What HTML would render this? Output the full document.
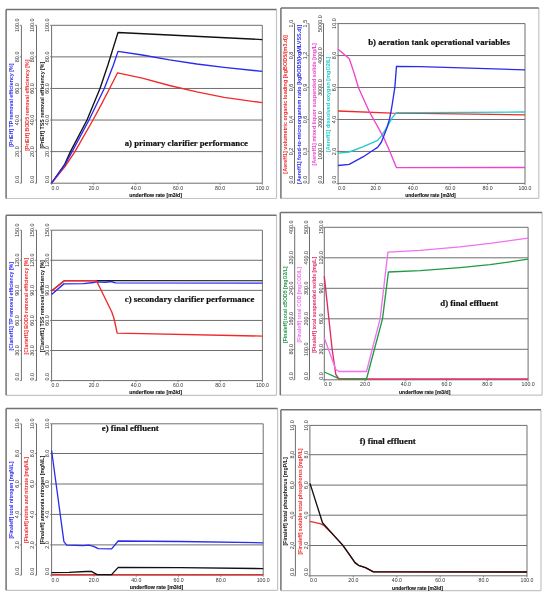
<!DOCTYPE html>
<html><head><meta charset="utf-8"><title>Clarifier underflow rate simulation results</title>
<style>
html,body{margin:0;padding:0;background:#fff;}
body{width:550px;height:599px;overflow:hidden;}
svg{display:block;}
</style></head>
<body>
<svg width="550" height="599" viewBox="0 0 550 599" font-family="'Liberation Sans', Arial, sans-serif">
<rect width="550" height="599" fill="#fff"/>
<line x1="6.1" y1="198.5" x2="276.5" y2="198.5" stroke="#c4c4c4" stroke-width="1.2"/>
<line x1="276.5" y1="9.6" x2="276.5" y2="198.5" stroke="#c4c4c4" stroke-width="1.2"/>
<line x1="6.1" y1="9.6" x2="276.5" y2="9.6" stroke="#727272" stroke-width="1.5"/>
<line x1="6.1" y1="9.6" x2="6.1" y2="198.5" stroke="#727272" stroke-width="1.5"/>
<line x1="51.6" y1="151.62" x2="262.3" y2="151.62" stroke="#6e6e6e" stroke-width="1"/>
<line x1="51.6" y1="120.04" x2="262.3" y2="120.04" stroke="#6e6e6e" stroke-width="1"/>
<line x1="51.6" y1="88.46" x2="262.3" y2="88.46" stroke="#6e6e6e" stroke-width="1"/>
<line x1="51.6" y1="56.88" x2="262.3" y2="56.88" stroke="#6e6e6e" stroke-width="1"/>
<line x1="51.6" y1="25.3" x2="262.3" y2="25.3" stroke="#6e6e6e" stroke-width="1"/>
<line x1="262.3" y1="25.3" x2="262.3" y2="183.2" stroke="#6e6e6e" stroke-width="1"/>
<line x1="51.6" y1="183.2" x2="262.3" y2="183.2" stroke="#6e6e6e" stroke-width="1"/>
<line x1="51.6" y1="183.2" x2="51.6" y2="184.8" stroke="#6e6e6e" stroke-width="0.8"/>
<text transform="translate(51.6,189.64) scale(1,1.15)" font-size="5.2" fill="#333">0.0</text>
<line x1="93.74" y1="183.2" x2="93.74" y2="184.8" stroke="#6e6e6e" stroke-width="0.8"/>
<text transform="translate(93.74,189.64) scale(1,1.15)" font-size="5.2" fill="#333" text-anchor="middle">20.0</text>
<line x1="135.88" y1="183.2" x2="135.88" y2="184.8" stroke="#6e6e6e" stroke-width="0.8"/>
<text transform="translate(135.88,189.64) scale(1,1.15)" font-size="5.2" fill="#333" text-anchor="middle">40.0</text>
<line x1="178.02" y1="183.2" x2="178.02" y2="184.8" stroke="#6e6e6e" stroke-width="0.8"/>
<text transform="translate(178.02,189.64) scale(1,1.15)" font-size="5.2" fill="#333" text-anchor="middle">60.0</text>
<line x1="220.16" y1="183.2" x2="220.16" y2="184.8" stroke="#6e6e6e" stroke-width="0.8"/>
<text transform="translate(220.16,189.64) scale(1,1.15)" font-size="5.2" fill="#333" text-anchor="middle">80.0</text>
<line x1="262.3" y1="183.2" x2="262.3" y2="184.8" stroke="#6e6e6e" stroke-width="0.8"/>
<text transform="translate(262.3,189.64) scale(1,1.15)" font-size="5.2" fill="#333" text-anchor="middle">100.0</text>
<text x="155.6" y="197" font-size="5.2" font-weight="bold" fill="#111" stroke="#111" stroke-width="0.12" text-anchor="middle">underflow rate [m3/d]</text>
<line x1="21.4" y1="25.3" x2="21.4" y2="183.2" stroke="#6e6e6e" stroke-width="1"/>
<line x1="19.8" y1="183.2" x2="21.4" y2="183.2" stroke="#6e6e6e" stroke-width="0.8"/>
<text transform="translate(19,183.2) rotate(-90)" font-size="5.45" fill="#333">0.0</text>
<line x1="19.8" y1="151.62" x2="21.4" y2="151.62" stroke="#6e6e6e" stroke-width="0.8"/>
<text transform="translate(19,151.62) rotate(-90)" font-size="5.45" fill="#333" text-anchor="middle">20.0</text>
<line x1="19.8" y1="120.04" x2="21.4" y2="120.04" stroke="#6e6e6e" stroke-width="0.8"/>
<text transform="translate(19,120.04) rotate(-90)" font-size="5.45" fill="#333" text-anchor="middle">40.0</text>
<line x1="19.8" y1="88.46" x2="21.4" y2="88.46" stroke="#6e6e6e" stroke-width="0.8"/>
<text transform="translate(19,88.46) rotate(-90)" font-size="5.45" fill="#333" text-anchor="middle">60.0</text>
<line x1="19.8" y1="56.88" x2="21.4" y2="56.88" stroke="#6e6e6e" stroke-width="0.8"/>
<text transform="translate(19,56.88) rotate(-90)" font-size="5.45" fill="#333" text-anchor="middle">80.0</text>
<line x1="19.8" y1="25.3" x2="21.4" y2="25.3" stroke="#6e6e6e" stroke-width="0.8"/>
<text transform="translate(19,25.3) rotate(-90)" font-size="5.45" fill="#333" text-anchor="middle">100.0</text>
<text transform="translate(13.41,105.1) rotate(-90)" font-size="5.3" font-weight="bold" fill="#2a2af0" text-anchor="middle">[PriEff] TP removal efficiency [%]</text>
<line x1="36.5" y1="25.3" x2="36.5" y2="183.2" stroke="#6e6e6e" stroke-width="1"/>
<line x1="34.9" y1="183.2" x2="36.5" y2="183.2" stroke="#6e6e6e" stroke-width="0.8"/>
<text transform="translate(34.1,183.2) rotate(-90)" font-size="5.45" fill="#333">0.0</text>
<line x1="34.9" y1="151.62" x2="36.5" y2="151.62" stroke="#6e6e6e" stroke-width="0.8"/>
<text transform="translate(34.1,151.62) rotate(-90)" font-size="5.45" fill="#333" text-anchor="middle">20.0</text>
<line x1="34.9" y1="120.04" x2="36.5" y2="120.04" stroke="#6e6e6e" stroke-width="0.8"/>
<text transform="translate(34.1,120.04) rotate(-90)" font-size="5.45" fill="#333" text-anchor="middle">40.0</text>
<line x1="34.9" y1="88.46" x2="36.5" y2="88.46" stroke="#6e6e6e" stroke-width="0.8"/>
<text transform="translate(34.1,88.46) rotate(-90)" font-size="5.45" fill="#333" text-anchor="middle">60.0</text>
<line x1="34.9" y1="56.88" x2="36.5" y2="56.88" stroke="#6e6e6e" stroke-width="0.8"/>
<text transform="translate(34.1,56.88) rotate(-90)" font-size="5.45" fill="#333" text-anchor="middle">80.0</text>
<line x1="34.9" y1="25.3" x2="36.5" y2="25.3" stroke="#6e6e6e" stroke-width="0.8"/>
<text transform="translate(34.1,25.3) rotate(-90)" font-size="5.45" fill="#333" text-anchor="middle">100.0</text>
<text transform="translate(28.51,105.1) rotate(-90)" font-size="5.3" font-weight="bold" fill="#f02a2a" text-anchor="middle">[PriEff] BOD5 removal efficiency [%]</text>
<line x1="51.6" y1="25.3" x2="51.6" y2="183.2" stroke="#6e6e6e" stroke-width="1"/>
<line x1="50" y1="183.2" x2="51.6" y2="183.2" stroke="#6e6e6e" stroke-width="0.8"/>
<text transform="translate(49.2,183.2) rotate(-90)" font-size="5.45" fill="#333">0.0</text>
<line x1="50" y1="151.62" x2="51.6" y2="151.62" stroke="#6e6e6e" stroke-width="0.8"/>
<text transform="translate(49.2,151.62) rotate(-90)" font-size="5.45" fill="#333" text-anchor="middle">20.0</text>
<line x1="50" y1="120.04" x2="51.6" y2="120.04" stroke="#6e6e6e" stroke-width="0.8"/>
<text transform="translate(49.2,120.04) rotate(-90)" font-size="5.45" fill="#333" text-anchor="middle">40.0</text>
<line x1="50" y1="88.46" x2="51.6" y2="88.46" stroke="#6e6e6e" stroke-width="0.8"/>
<text transform="translate(49.2,88.46) rotate(-90)" font-size="5.45" fill="#333" text-anchor="middle">60.0</text>
<line x1="50" y1="56.88" x2="51.6" y2="56.88" stroke="#6e6e6e" stroke-width="0.8"/>
<text transform="translate(49.2,56.88) rotate(-90)" font-size="5.45" fill="#333" text-anchor="middle">80.0</text>
<line x1="50" y1="25.3" x2="51.6" y2="25.3" stroke="#6e6e6e" stroke-width="0.8"/>
<text transform="translate(49.2,25.3) rotate(-90)" font-size="5.45" fill="#333" text-anchor="middle">100.0</text>
<text transform="translate(43.61,105.1) rotate(-90)" font-size="5.3" font-weight="bold" fill="#111" text-anchor="middle">[PriEff] TSS removal efficiency [%]</text>
<polyline points="51.6,183.2 64.5,164.7 70.3,151.9 87,120 100,88.5 107.9,65 118,32.5 262.3,39.6" fill="none" stroke="#111" stroke-width="1.35" stroke-linejoin="round"/>
<polyline points="51.6,183.2 65,166.5 74.8,151.9 93,120 101.5,104.1 109.6,88.5 117.6,72.8 142.3,78.2 169.5,85.5 196.8,91.8 224.1,97.3 262.3,102.7" fill="none" stroke="#f02a2a" stroke-width="1.35" stroke-linejoin="round"/>
<polyline points="51.6,183.2 64.5,165.3 72,151.9 89,120 104.3,88.5 113.4,65 118,51.4 142.3,55 169.5,59.9 196.8,64 224.1,67.3 262.3,71.4" fill="none" stroke="#2a2af0" stroke-width="1.35" stroke-linejoin="round"/>
<text x="124.7" y="145.7" font-family="'Liberation Serif', 'Times New Roman', serif" font-size="8.77" font-weight="bold" fill="#111" stroke="#111" stroke-width="0.2">a) primary clarifier performance</text>
<line x1="280.9" y1="198.4" x2="538.8" y2="198.4" stroke="#c4c4c4" stroke-width="1.2"/>
<line x1="538.8" y1="8.0" x2="538.8" y2="198.4" stroke="#c4c4c4" stroke-width="1.2"/>
<line x1="280.9" y1="8.0" x2="538.8" y2="8.0" stroke="#727272" stroke-width="1.5"/>
<line x1="280.9" y1="8.0" x2="280.9" y2="198.4" stroke="#727272" stroke-width="1.5"/>
<line x1="338.1" y1="151.44" x2="525" y2="151.44" stroke="#6e6e6e" stroke-width="1"/>
<line x1="338.1" y1="119.48" x2="525" y2="119.48" stroke="#6e6e6e" stroke-width="1"/>
<line x1="338.1" y1="87.52" x2="525" y2="87.52" stroke="#6e6e6e" stroke-width="1"/>
<line x1="338.1" y1="55.56" x2="525" y2="55.56" stroke="#6e6e6e" stroke-width="1"/>
<line x1="338.1" y1="23.6" x2="525" y2="23.6" stroke="#6e6e6e" stroke-width="1"/>
<line x1="525" y1="23.6" x2="525" y2="183.4" stroke="#6e6e6e" stroke-width="1"/>
<line x1="338.1" y1="183.4" x2="525" y2="183.4" stroke="#6e6e6e" stroke-width="1"/>
<line x1="338.1" y1="183.4" x2="338.1" y2="185" stroke="#6e6e6e" stroke-width="0.8"/>
<text transform="translate(338.1,189.84) scale(1,1.15)" font-size="5.2" fill="#333">0.0</text>
<line x1="375.48" y1="183.4" x2="375.48" y2="185" stroke="#6e6e6e" stroke-width="0.8"/>
<text transform="translate(375.48,189.84) scale(1,1.15)" font-size="5.2" fill="#333" text-anchor="middle">20.0</text>
<line x1="412.86" y1="183.4" x2="412.86" y2="185" stroke="#6e6e6e" stroke-width="0.8"/>
<text transform="translate(412.86,189.84) scale(1,1.15)" font-size="5.2" fill="#333" text-anchor="middle">40.0</text>
<line x1="450.24" y1="183.4" x2="450.24" y2="185" stroke="#6e6e6e" stroke-width="0.8"/>
<text transform="translate(450.24,189.84) scale(1,1.15)" font-size="5.2" fill="#333" text-anchor="middle">60.0</text>
<line x1="487.62" y1="183.4" x2="487.62" y2="185" stroke="#6e6e6e" stroke-width="0.8"/>
<text transform="translate(487.62,189.84) scale(1,1.15)" font-size="5.2" fill="#333" text-anchor="middle">80.0</text>
<line x1="525" y1="183.4" x2="525" y2="185" stroke="#6e6e6e" stroke-width="0.8"/>
<text transform="translate(525,189.84) scale(1,1.15)" font-size="5.2" fill="#333" text-anchor="middle">100.0</text>
<text x="430.5" y="197.2" font-size="4.97" font-weight="bold" fill="#111" stroke="#111" stroke-width="0.12" text-anchor="middle">underflow rate [m3/d]</text>
<line x1="294.5" y1="23.6" x2="294.5" y2="183.4" stroke="#6e6e6e" stroke-width="1"/>
<line x1="292.9" y1="183.4" x2="294.5" y2="183.4" stroke="#6e6e6e" stroke-width="0.8"/>
<text transform="translate(292.85,183.4) rotate(-90)" font-size="5.45" fill="#333">0.0</text>
<line x1="292.9" y1="151.44" x2="294.5" y2="151.44" stroke="#6e6e6e" stroke-width="0.8"/>
<text transform="translate(292.85,151.44) rotate(-90)" font-size="5.45" fill="#333" text-anchor="middle">0.2</text>
<line x1="292.9" y1="119.48" x2="294.5" y2="119.48" stroke="#6e6e6e" stroke-width="0.8"/>
<text transform="translate(292.85,119.48) rotate(-90)" font-size="5.45" fill="#333" text-anchor="middle">0.4</text>
<line x1="292.9" y1="87.52" x2="294.5" y2="87.52" stroke="#6e6e6e" stroke-width="0.8"/>
<text transform="translate(292.85,87.52) rotate(-90)" font-size="5.45" fill="#333" text-anchor="middle">0.6</text>
<line x1="292.9" y1="55.56" x2="294.5" y2="55.56" stroke="#6e6e6e" stroke-width="0.8"/>
<text transform="translate(292.85,55.56) rotate(-90)" font-size="5.45" fill="#333" text-anchor="middle">0.8</text>
<line x1="292.9" y1="23.6" x2="294.5" y2="23.6" stroke="#6e6e6e" stroke-width="0.8"/>
<text transform="translate(292.85,23.6) rotate(-90)" font-size="5.45" fill="#333" text-anchor="middle">1.0</text>
<text transform="translate(286.57,104.35) rotate(-90)" font-size="5.48" font-weight="bold" fill="#f02a2a" text-anchor="middle">[Aereff1] volumetric organic loading [kgBOD5/(m3.d)]</text>
<line x1="309" y1="23.6" x2="309" y2="183.4" stroke="#6e6e6e" stroke-width="1"/>
<line x1="307.4" y1="183.4" x2="309" y2="183.4" stroke="#6e6e6e" stroke-width="0.8"/>
<text transform="translate(307.35,183.4) rotate(-90)" font-size="5.45" fill="#333">0.0</text>
<line x1="307.4" y1="151.44" x2="309" y2="151.44" stroke="#6e6e6e" stroke-width="0.8"/>
<text transform="translate(307.35,151.44) rotate(-90)" font-size="5.45" fill="#333" text-anchor="middle">0.3</text>
<line x1="307.4" y1="119.48" x2="309" y2="119.48" stroke="#6e6e6e" stroke-width="0.8"/>
<text transform="translate(307.35,119.48) rotate(-90)" font-size="5.45" fill="#333" text-anchor="middle">0.6</text>
<line x1="307.4" y1="87.52" x2="309" y2="87.52" stroke="#6e6e6e" stroke-width="0.8"/>
<text transform="translate(307.35,87.52) rotate(-90)" font-size="5.45" fill="#333" text-anchor="middle">0.9</text>
<line x1="307.4" y1="55.56" x2="309" y2="55.56" stroke="#6e6e6e" stroke-width="0.8"/>
<text transform="translate(307.35,55.56) rotate(-90)" font-size="5.45" fill="#333" text-anchor="middle">1.2</text>
<line x1="307.4" y1="23.6" x2="309" y2="23.6" stroke="#6e6e6e" stroke-width="0.8"/>
<text transform="translate(307.35,23.6) rotate(-90)" font-size="5.45" fill="#333" text-anchor="middle">1.5</text>
<text transform="translate(301.07,104.35) rotate(-90)" font-size="5.48" font-weight="bold" fill="#2a2af0" text-anchor="middle">[Aereff1] food-to-microorganism ratio [kgBOD5/(kgMLVSS.d)]</text>
<line x1="323.5" y1="23.6" x2="323.5" y2="183.4" stroke="#6e6e6e" stroke-width="1"/>
<line x1="321.9" y1="183.4" x2="323.5" y2="183.4" stroke="#6e6e6e" stroke-width="0.8"/>
<text transform="translate(321.65,183.4) rotate(-90)" font-size="5.45" fill="#333">0.0</text>
<line x1="321.9" y1="151.44" x2="323.5" y2="151.44" stroke="#6e6e6e" stroke-width="0.8"/>
<text transform="translate(321.65,151.44) rotate(-90)" font-size="5.45" fill="#333" text-anchor="middle">1000.0</text>
<line x1="321.9" y1="119.48" x2="323.5" y2="119.48" stroke="#6e6e6e" stroke-width="0.8"/>
<text transform="translate(321.65,119.48) rotate(-90)" font-size="5.45" fill="#333" text-anchor="middle">2000.0</text>
<line x1="321.9" y1="87.52" x2="323.5" y2="87.52" stroke="#6e6e6e" stroke-width="0.8"/>
<text transform="translate(321.65,87.52) rotate(-90)" font-size="5.45" fill="#333" text-anchor="middle">3000.0</text>
<line x1="321.9" y1="55.56" x2="323.5" y2="55.56" stroke="#6e6e6e" stroke-width="0.8"/>
<text transform="translate(321.65,55.56) rotate(-90)" font-size="5.45" fill="#333" text-anchor="middle">4000.0</text>
<line x1="321.9" y1="23.6" x2="323.5" y2="23.6" stroke="#6e6e6e" stroke-width="0.8"/>
<text transform="translate(321.65,23.6) rotate(-90)" font-size="5.45" fill="#333" text-anchor="middle">5000.0</text>
<text transform="translate(315.57,104.35) rotate(-90)" font-size="5.48" font-weight="bold" fill="#ee44cc" text-anchor="middle">[Aereff1] mixed liquor suspended solids [mg/L]</text>
<line x1="338.1" y1="23.6" x2="338.1" y2="183.4" stroke="#6e6e6e" stroke-width="1"/>
<line x1="336.5" y1="183.4" x2="338.1" y2="183.4" stroke="#6e6e6e" stroke-width="0.8"/>
<text transform="translate(336.15,183.4) rotate(-90)" font-size="5.45" fill="#333">0.0</text>
<line x1="336.5" y1="151.44" x2="338.1" y2="151.44" stroke="#6e6e6e" stroke-width="0.8"/>
<text transform="translate(336.15,151.44) rotate(-90)" font-size="5.45" fill="#333" text-anchor="middle">2.0</text>
<line x1="336.5" y1="119.48" x2="338.1" y2="119.48" stroke="#6e6e6e" stroke-width="0.8"/>
<text transform="translate(336.15,119.48) rotate(-90)" font-size="5.45" fill="#333" text-anchor="middle">4.0</text>
<line x1="336.5" y1="87.52" x2="338.1" y2="87.52" stroke="#6e6e6e" stroke-width="0.8"/>
<text transform="translate(336.15,87.52) rotate(-90)" font-size="5.45" fill="#333" text-anchor="middle">6.0</text>
<line x1="336.5" y1="55.56" x2="338.1" y2="55.56" stroke="#6e6e6e" stroke-width="0.8"/>
<text transform="translate(336.15,55.56) rotate(-90)" font-size="5.45" fill="#333" text-anchor="middle">8.0</text>
<line x1="336.5" y1="23.6" x2="338.1" y2="23.6" stroke="#6e6e6e" stroke-width="0.8"/>
<text transform="translate(336.15,23.6) rotate(-90)" font-size="5.45" fill="#333" text-anchor="middle">10.0</text>
<text transform="translate(330.17,104.35) rotate(-90)" font-size="5.48" font-weight="bold" fill="#22cccc" text-anchor="middle">[Aereff1] dissolved oxygen [mgO2/L]</text>
<polyline points="338.1,111 391.8,113.2 420,113.4 525,114.8" fill="none" stroke="#f02a2a" stroke-width="1.35" stroke-linejoin="round"/>
<polyline points="338.1,153.1 349.2,152 363.4,146.7 377.6,140.4 381.9,135.4 387.6,126.2 391.8,118.4 396.4,112.6 420,112.6 470,112.3 525,112" fill="none" stroke="#22cccc" stroke-width="1.35" stroke-linejoin="round"/>
<polyline points="338.1,49.2 349.3,58.8 354.1,73.1 358.5,87.7 364,100 369.1,111.3 376.2,124 383.3,136.8 389,149.6 396.4,167.6 525,167.5" fill="none" stroke="#ee44cc" stroke-width="1.35" stroke-linejoin="round"/>
<polyline points="338.1,165.5 349.2,164.3 363.4,156.7 371.9,151 377.6,147.4 381.2,142.5 384,135.4 386.8,128.3 389.7,118.4 391.8,107 392.9,100 394.8,87.7 396.5,66.3 420,66.6 470,68.2 525,69.8" fill="none" stroke="#2a2af0" stroke-width="1.35" stroke-linejoin="round"/>
<text x="368.2" y="44.8" font-family="'Liberation Serif', 'Times New Roman', serif" font-size="8.77" font-weight="bold" fill="#111" stroke="#111" stroke-width="0.2">b) aeration tank operational variables</text>
<line x1="6.1" y1="395.3" x2="276.5" y2="395.3" stroke="#c4c4c4" stroke-width="1.2"/>
<line x1="276.5" y1="215.3" x2="276.5" y2="395.3" stroke="#c4c4c4" stroke-width="1.2"/>
<line x1="6.1" y1="215.3" x2="276.5" y2="215.3" stroke="#727272" stroke-width="1.5"/>
<line x1="6.1" y1="215.3" x2="6.1" y2="395.3" stroke="#727272" stroke-width="1.5"/>
<line x1="51.6" y1="350.52" x2="262.4" y2="350.52" stroke="#6e6e6e" stroke-width="1"/>
<line x1="51.6" y1="320.44" x2="262.4" y2="320.44" stroke="#6e6e6e" stroke-width="1"/>
<line x1="51.6" y1="290.36" x2="262.4" y2="290.36" stroke="#6e6e6e" stroke-width="1"/>
<line x1="51.6" y1="260.28" x2="262.4" y2="260.28" stroke="#6e6e6e" stroke-width="1"/>
<line x1="51.6" y1="230.2" x2="262.4" y2="230.2" stroke="#6e6e6e" stroke-width="1"/>
<line x1="262.4" y1="230.2" x2="262.4" y2="380.6" stroke="#6e6e6e" stroke-width="1"/>
<line x1="51.6" y1="380.6" x2="262.4" y2="380.6" stroke="#6e6e6e" stroke-width="1"/>
<line x1="51.6" y1="380.6" x2="51.6" y2="382.2" stroke="#6e6e6e" stroke-width="0.8"/>
<text transform="translate(51.6,387.04) scale(1,1.15)" font-size="5.2" fill="#333">0.0</text>
<line x1="93.76" y1="380.6" x2="93.76" y2="382.2" stroke="#6e6e6e" stroke-width="0.8"/>
<text transform="translate(93.76,387.04) scale(1,1.15)" font-size="5.2" fill="#333" text-anchor="middle">20.0</text>
<line x1="135.92" y1="380.6" x2="135.92" y2="382.2" stroke="#6e6e6e" stroke-width="0.8"/>
<text transform="translate(135.92,387.04) scale(1,1.15)" font-size="5.2" fill="#333" text-anchor="middle">40.0</text>
<line x1="178.08" y1="380.6" x2="178.08" y2="382.2" stroke="#6e6e6e" stroke-width="0.8"/>
<text transform="translate(178.08,387.04) scale(1,1.15)" font-size="5.2" fill="#333" text-anchor="middle">60.0</text>
<line x1="220.24" y1="380.6" x2="220.24" y2="382.2" stroke="#6e6e6e" stroke-width="0.8"/>
<text transform="translate(220.24,387.04) scale(1,1.15)" font-size="5.2" fill="#333" text-anchor="middle">80.0</text>
<line x1="262.4" y1="380.6" x2="262.4" y2="382.2" stroke="#6e6e6e" stroke-width="0.8"/>
<text transform="translate(262.4,387.04) scale(1,1.15)" font-size="5.2" fill="#333" text-anchor="middle">100.0</text>
<text x="155.6" y="394.4" font-size="5.2" font-weight="bold" fill="#111" stroke="#111" stroke-width="0.12" text-anchor="middle">underflow rate [m3/d]</text>
<line x1="21.4" y1="230.2" x2="21.4" y2="380.6" stroke="#6e6e6e" stroke-width="1"/>
<line x1="19.8" y1="380.6" x2="21.4" y2="380.6" stroke="#6e6e6e" stroke-width="0.8"/>
<text transform="translate(19,380.6) rotate(-90)" font-size="5.45" fill="#333">0.0</text>
<line x1="19.8" y1="350.52" x2="21.4" y2="350.52" stroke="#6e6e6e" stroke-width="0.8"/>
<text transform="translate(19,350.52) rotate(-90)" font-size="5.45" fill="#333" text-anchor="middle">30.0</text>
<line x1="19.8" y1="320.44" x2="21.4" y2="320.44" stroke="#6e6e6e" stroke-width="0.8"/>
<text transform="translate(19,320.44) rotate(-90)" font-size="5.45" fill="#333" text-anchor="middle">60.0</text>
<line x1="19.8" y1="290.36" x2="21.4" y2="290.36" stroke="#6e6e6e" stroke-width="0.8"/>
<text transform="translate(19,290.36) rotate(-90)" font-size="5.45" fill="#333" text-anchor="middle">90.0</text>
<line x1="19.8" y1="260.28" x2="21.4" y2="260.28" stroke="#6e6e6e" stroke-width="0.8"/>
<text transform="translate(19,260.28) rotate(-90)" font-size="5.45" fill="#333" text-anchor="middle">120.0</text>
<line x1="19.8" y1="230.2" x2="21.4" y2="230.2" stroke="#6e6e6e" stroke-width="0.8"/>
<text transform="translate(19,230.2) rotate(-90)" font-size="5.45" fill="#333" text-anchor="middle">150.0</text>
<text transform="translate(13.37,306.25) rotate(-90)" font-size="5.2" font-weight="bold" fill="#2a2af0" text-anchor="middle">[Clarieff1] TP removal efficiency [%]</text>
<line x1="36.5" y1="230.2" x2="36.5" y2="380.6" stroke="#6e6e6e" stroke-width="1"/>
<line x1="34.9" y1="380.6" x2="36.5" y2="380.6" stroke="#6e6e6e" stroke-width="0.8"/>
<text transform="translate(34.1,380.6) rotate(-90)" font-size="5.45" fill="#333">0.0</text>
<line x1="34.9" y1="350.52" x2="36.5" y2="350.52" stroke="#6e6e6e" stroke-width="0.8"/>
<text transform="translate(34.1,350.52) rotate(-90)" font-size="5.45" fill="#333" text-anchor="middle">30.0</text>
<line x1="34.9" y1="320.44" x2="36.5" y2="320.44" stroke="#6e6e6e" stroke-width="0.8"/>
<text transform="translate(34.1,320.44) rotate(-90)" font-size="5.45" fill="#333" text-anchor="middle">60.0</text>
<line x1="34.9" y1="290.36" x2="36.5" y2="290.36" stroke="#6e6e6e" stroke-width="0.8"/>
<text transform="translate(34.1,290.36) rotate(-90)" font-size="5.45" fill="#333" text-anchor="middle">90.0</text>
<line x1="34.9" y1="260.28" x2="36.5" y2="260.28" stroke="#6e6e6e" stroke-width="0.8"/>
<text transform="translate(34.1,260.28) rotate(-90)" font-size="5.45" fill="#333" text-anchor="middle">120.0</text>
<line x1="34.9" y1="230.2" x2="36.5" y2="230.2" stroke="#6e6e6e" stroke-width="0.8"/>
<text transform="translate(34.1,230.2) rotate(-90)" font-size="5.45" fill="#333" text-anchor="middle">150.0</text>
<text transform="translate(28.47,306.25) rotate(-90)" font-size="5.2" font-weight="bold" fill="#f02a2a" text-anchor="middle">[Clarieff1] BOD5 removal efficiency [%]</text>
<line x1="51.6" y1="230.2" x2="51.6" y2="380.6" stroke="#6e6e6e" stroke-width="1"/>
<line x1="50" y1="380.6" x2="51.6" y2="380.6" stroke="#6e6e6e" stroke-width="0.8"/>
<text transform="translate(49.2,380.6) rotate(-90)" font-size="5.45" fill="#333">0.0</text>
<line x1="50" y1="350.52" x2="51.6" y2="350.52" stroke="#6e6e6e" stroke-width="0.8"/>
<text transform="translate(49.2,350.52) rotate(-90)" font-size="5.45" fill="#333" text-anchor="middle">30.0</text>
<line x1="50" y1="320.44" x2="51.6" y2="320.44" stroke="#6e6e6e" stroke-width="0.8"/>
<text transform="translate(49.2,320.44) rotate(-90)" font-size="5.45" fill="#333" text-anchor="middle">60.0</text>
<line x1="50" y1="290.36" x2="51.6" y2="290.36" stroke="#6e6e6e" stroke-width="0.8"/>
<text transform="translate(49.2,290.36) rotate(-90)" font-size="5.45" fill="#333" text-anchor="middle">90.0</text>
<line x1="50" y1="260.28" x2="51.6" y2="260.28" stroke="#6e6e6e" stroke-width="0.8"/>
<text transform="translate(49.2,260.28) rotate(-90)" font-size="5.45" fill="#333" text-anchor="middle">120.0</text>
<line x1="50" y1="230.2" x2="51.6" y2="230.2" stroke="#6e6e6e" stroke-width="0.8"/>
<text transform="translate(49.2,230.2) rotate(-90)" font-size="5.45" fill="#333" text-anchor="middle">150.0</text>
<text transform="translate(43.57,306.25) rotate(-90)" font-size="5.2" font-weight="bold" fill="#111" text-anchor="middle">[Clarieff1] TSS removal efficiency [%]</text>
<polyline points="51.6,290.9 64.5,280.5 262.4,280.7" fill="none" stroke="#111" stroke-width="1.1" stroke-linejoin="round"/>
<polyline points="51.6,294.5 63.8,283.9 83.5,283.6 93.6,282.5 96.5,281.9 105.3,282.2 111,281.5 115.5,282.9 262.4,283.1" fill="none" stroke="#2a2af0" stroke-width="1.4" stroke-linejoin="round"/>
<polyline points="51.6,290.9 64.5,280.7 96.5,280.7 111.8,312 114,318.5 117.2,333.1 262.4,336.1" fill="none" stroke="#f02a2a" stroke-width="1.35" stroke-linejoin="round"/>
<text x="124.8" y="302.3" font-family="'Liberation Serif', 'Times New Roman', serif" font-size="8.77" font-weight="bold" fill="#111" stroke="#111" stroke-width="0.2">c) secondary clarifier performance</text>
<line x1="280.3" y1="395.2" x2="542.1" y2="395.2" stroke="#c4c4c4" stroke-width="1.2"/>
<line x1="542.1" y1="212.4" x2="542.1" y2="395.2" stroke="#c4c4c4" stroke-width="1.2"/>
<line x1="280.3" y1="212.4" x2="542.1" y2="212.4" stroke="#727272" stroke-width="1.5"/>
<line x1="280.3" y1="212.4" x2="280.3" y2="395.2" stroke="#727272" stroke-width="1.5"/>
<line x1="324.3" y1="349.3" x2="528.1" y2="349.3" stroke="#6e6e6e" stroke-width="1"/>
<line x1="324.3" y1="318.8" x2="528.1" y2="318.8" stroke="#6e6e6e" stroke-width="1"/>
<line x1="324.3" y1="288.3" x2="528.1" y2="288.3" stroke="#6e6e6e" stroke-width="1"/>
<line x1="324.3" y1="257.8" x2="528.1" y2="257.8" stroke="#6e6e6e" stroke-width="1"/>
<line x1="324.3" y1="227.3" x2="528.1" y2="227.3" stroke="#6e6e6e" stroke-width="1"/>
<line x1="528.1" y1="227.3" x2="528.1" y2="379.8" stroke="#6e6e6e" stroke-width="1"/>
<line x1="324.3" y1="379.8" x2="528.1" y2="379.8" stroke="#6e6e6e" stroke-width="1"/>
<line x1="324.3" y1="379.8" x2="324.3" y2="381.4" stroke="#6e6e6e" stroke-width="0.8"/>
<text transform="translate(324.3,386.24) scale(1,1.15)" font-size="5.2" fill="#333">0.0</text>
<line x1="365.06" y1="379.8" x2="365.06" y2="381.4" stroke="#6e6e6e" stroke-width="0.8"/>
<text transform="translate(365.06,386.24) scale(1,1.15)" font-size="5.2" fill="#333" text-anchor="middle">20.0</text>
<line x1="405.82" y1="379.8" x2="405.82" y2="381.4" stroke="#6e6e6e" stroke-width="0.8"/>
<text transform="translate(405.82,386.24) scale(1,1.15)" font-size="5.2" fill="#333" text-anchor="middle">40.0</text>
<line x1="446.58" y1="379.8" x2="446.58" y2="381.4" stroke="#6e6e6e" stroke-width="0.8"/>
<text transform="translate(446.58,386.24) scale(1,1.15)" font-size="5.2" fill="#333" text-anchor="middle">60.0</text>
<line x1="487.34" y1="379.8" x2="487.34" y2="381.4" stroke="#6e6e6e" stroke-width="0.8"/>
<text transform="translate(487.34,386.24) scale(1,1.15)" font-size="5.2" fill="#333" text-anchor="middle">80.0</text>
<line x1="528.1" y1="379.8" x2="528.1" y2="381.4" stroke="#6e6e6e" stroke-width="0.8"/>
<text transform="translate(528.1,386.24) scale(1,1.15)" font-size="5.2" fill="#333" text-anchor="middle">100.0</text>
<text x="424.7" y="393.6" font-size="5.05" font-weight="bold" fill="#111" stroke="#111" stroke-width="0.12" text-anchor="middle">underflow rate [m3/d]</text>
<line x1="294.7" y1="227.3" x2="294.7" y2="379.8" stroke="#6e6e6e" stroke-width="1"/>
<line x1="293.1" y1="379.8" x2="294.7" y2="379.8" stroke="#6e6e6e" stroke-width="0.8"/>
<text transform="translate(292.95,379.8) rotate(-90)" font-size="5.45" fill="#333">0.0</text>
<line x1="293.1" y1="349.3" x2="294.7" y2="349.3" stroke="#6e6e6e" stroke-width="0.8"/>
<text transform="translate(292.95,349.3) rotate(-90)" font-size="5.45" fill="#333" text-anchor="middle">80.0</text>
<line x1="293.1" y1="318.8" x2="294.7" y2="318.8" stroke="#6e6e6e" stroke-width="0.8"/>
<text transform="translate(292.95,318.8) rotate(-90)" font-size="5.45" fill="#333" text-anchor="middle">160.0</text>
<line x1="293.1" y1="288.3" x2="294.7" y2="288.3" stroke="#6e6e6e" stroke-width="0.8"/>
<text transform="translate(292.95,288.3) rotate(-90)" font-size="5.45" fill="#333" text-anchor="middle">240.0</text>
<line x1="293.1" y1="257.8" x2="294.7" y2="257.8" stroke="#6e6e6e" stroke-width="0.8"/>
<text transform="translate(292.95,257.8) rotate(-90)" font-size="5.45" fill="#333" text-anchor="middle">320.0</text>
<line x1="293.1" y1="227.3" x2="294.7" y2="227.3" stroke="#6e6e6e" stroke-width="0.8"/>
<text transform="translate(292.95,227.3) rotate(-90)" font-size="5.45" fill="#333" text-anchor="middle">400.0</text>
<text transform="translate(286.65,304.75) rotate(-90)" font-size="5.15" font-weight="bold" fill="#1f9a45" text-anchor="middle">[Finaleff] total cBOD5 [mgO2/L]</text>
<line x1="309.5" y1="227.3" x2="309.5" y2="379.8" stroke="#6e6e6e" stroke-width="1"/>
<line x1="307.9" y1="379.8" x2="309.5" y2="379.8" stroke="#6e6e6e" stroke-width="0.8"/>
<text transform="translate(307.75,379.8) rotate(-90)" font-size="5.45" fill="#333">0.0</text>
<line x1="307.9" y1="349.3" x2="309.5" y2="349.3" stroke="#6e6e6e" stroke-width="0.8"/>
<text transform="translate(307.75,349.3) rotate(-90)" font-size="5.45" fill="#333" text-anchor="middle">100.0</text>
<line x1="307.9" y1="318.8" x2="309.5" y2="318.8" stroke="#6e6e6e" stroke-width="0.8"/>
<text transform="translate(307.75,318.8) rotate(-90)" font-size="5.45" fill="#333" text-anchor="middle">200.0</text>
<line x1="307.9" y1="288.3" x2="309.5" y2="288.3" stroke="#6e6e6e" stroke-width="0.8"/>
<text transform="translate(307.75,288.3) rotate(-90)" font-size="5.45" fill="#333" text-anchor="middle">300.0</text>
<line x1="307.9" y1="257.8" x2="309.5" y2="257.8" stroke="#6e6e6e" stroke-width="0.8"/>
<text transform="translate(307.75,257.8) rotate(-90)" font-size="5.45" fill="#333" text-anchor="middle">400.0</text>
<line x1="307.9" y1="227.3" x2="309.5" y2="227.3" stroke="#6e6e6e" stroke-width="0.8"/>
<text transform="translate(307.75,227.3) rotate(-90)" font-size="5.45" fill="#333" text-anchor="middle">500.0</text>
<text transform="translate(301.45,304.75) rotate(-90)" font-size="5.15" font-weight="bold" fill="#f070f0" text-anchor="middle">[Finaleff] total COD [mgCOD/L]</text>
<line x1="324.3" y1="227.3" x2="324.3" y2="379.8" stroke="#6e6e6e" stroke-width="1"/>
<line x1="322.7" y1="379.8" x2="324.3" y2="379.8" stroke="#6e6e6e" stroke-width="0.8"/>
<text transform="translate(322.55,379.8) rotate(-90)" font-size="5.45" fill="#333">0.0</text>
<line x1="322.7" y1="349.3" x2="324.3" y2="349.3" stroke="#6e6e6e" stroke-width="0.8"/>
<text transform="translate(322.55,349.3) rotate(-90)" font-size="5.45" fill="#333" text-anchor="middle">30.0</text>
<line x1="322.7" y1="318.8" x2="324.3" y2="318.8" stroke="#6e6e6e" stroke-width="0.8"/>
<text transform="translate(322.55,318.8) rotate(-90)" font-size="5.45" fill="#333" text-anchor="middle">60.0</text>
<line x1="322.7" y1="288.3" x2="324.3" y2="288.3" stroke="#6e6e6e" stroke-width="0.8"/>
<text transform="translate(322.55,288.3) rotate(-90)" font-size="5.45" fill="#333" text-anchor="middle">90.0</text>
<line x1="322.7" y1="257.8" x2="324.3" y2="257.8" stroke="#6e6e6e" stroke-width="0.8"/>
<text transform="translate(322.55,257.8) rotate(-90)" font-size="5.45" fill="#333" text-anchor="middle">120.0</text>
<line x1="322.7" y1="227.3" x2="324.3" y2="227.3" stroke="#6e6e6e" stroke-width="0.8"/>
<text transform="translate(322.55,227.3) rotate(-90)" font-size="5.45" fill="#333" text-anchor="middle">150.0</text>
<text transform="translate(316.25,304.75) rotate(-90)" font-size="5.15" font-weight="bold" fill="#e02a60" text-anchor="middle">[Finaleff] total suspended solids [mg/L]</text>
<polyline points="324.3,276.3 332.1,349 335.8,374.4 338.9,379 528.1,379" fill="none" stroke="#e02a60" stroke-width="1.35" stroke-linejoin="round"/>
<polyline points="324.3,338.1 335.8,369.5 338.9,371.5 366.5,371.5 380.1,318.9 387.9,252.1 420,250.3 460,246.8 490,243.4 528.1,238.1" fill="none" stroke="#f070f0" stroke-width="1.35" stroke-linejoin="round"/>
<polyline points="324.3,372 338.9,378.7 366.5,379 382.5,318.9 388.4,272 420,270.6 460,267.6 490,264.7 528.1,259.2" fill="none" stroke="#1f9a45" stroke-width="1.35" stroke-linejoin="round"/>
<text x="440.3" y="306.2" font-family="'Liberation Serif', 'Times New Roman', serif" font-size="8.77" font-weight="bold" fill="#111" stroke="#111" stroke-width="0.2">d) final effluent</text>
<line x1="6.1" y1="590.3" x2="277.6" y2="590.3" stroke="#c4c4c4" stroke-width="1.2"/>
<line x1="277.6" y1="408.5" x2="277.6" y2="590.3" stroke="#c4c4c4" stroke-width="1.2"/>
<line x1="6.1" y1="408.5" x2="277.6" y2="408.5" stroke="#727272" stroke-width="1.5"/>
<line x1="6.1" y1="408.5" x2="6.1" y2="590.3" stroke="#727272" stroke-width="1.5"/>
<line x1="51.6" y1="544.9" x2="263.2" y2="544.9" stroke="#6e6e6e" stroke-width="1"/>
<line x1="51.6" y1="514.4" x2="263.2" y2="514.4" stroke="#6e6e6e" stroke-width="1"/>
<line x1="51.6" y1="484" x2="263.2" y2="484" stroke="#6e6e6e" stroke-width="1"/>
<line x1="51.6" y1="453.5" x2="263.2" y2="453.5" stroke="#6e6e6e" stroke-width="1"/>
<line x1="51.6" y1="423.8" x2="263.2" y2="423.8" stroke="#6e6e6e" stroke-width="1"/>
<line x1="263.2" y1="423.8" x2="263.2" y2="575.2" stroke="#6e6e6e" stroke-width="1"/>
<line x1="51.6" y1="575.2" x2="263.2" y2="575.2" stroke="#6e6e6e" stroke-width="1"/>
<line x1="51.6" y1="575.2" x2="51.6" y2="576.8" stroke="#6e6e6e" stroke-width="0.8"/>
<text transform="translate(51.6,581.64) scale(1,1.15)" font-size="5.2" fill="#333">0.0</text>
<line x1="93.92" y1="575.2" x2="93.92" y2="576.8" stroke="#6e6e6e" stroke-width="0.8"/>
<text transform="translate(93.92,581.64) scale(1,1.15)" font-size="5.2" fill="#333" text-anchor="middle">20.0</text>
<line x1="136.24" y1="575.2" x2="136.24" y2="576.8" stroke="#6e6e6e" stroke-width="0.8"/>
<text transform="translate(136.24,581.64) scale(1,1.15)" font-size="5.2" fill="#333" text-anchor="middle">40.0</text>
<line x1="178.56" y1="575.2" x2="178.56" y2="576.8" stroke="#6e6e6e" stroke-width="0.8"/>
<text transform="translate(178.56,581.64) scale(1,1.15)" font-size="5.2" fill="#333" text-anchor="middle">60.0</text>
<line x1="220.88" y1="575.2" x2="220.88" y2="576.8" stroke="#6e6e6e" stroke-width="0.8"/>
<text transform="translate(220.88,581.64) scale(1,1.15)" font-size="5.2" fill="#333" text-anchor="middle">80.0</text>
<line x1="263.2" y1="575.2" x2="263.2" y2="576.8" stroke="#6e6e6e" stroke-width="0.8"/>
<text transform="translate(263.2,581.64) scale(1,1.15)" font-size="5.2" fill="#333" text-anchor="middle">100.0</text>
<text x="156.45" y="589" font-size="5.25" font-weight="bold" fill="#111" stroke="#111" stroke-width="0.12" text-anchor="middle">underflow rate [m3/d]</text>
<line x1="21.4" y1="423.8" x2="21.4" y2="575.2" stroke="#6e6e6e" stroke-width="1"/>
<line x1="19.8" y1="575.2" x2="21.4" y2="575.2" stroke="#6e6e6e" stroke-width="0.8"/>
<text transform="translate(19,575.2) rotate(-90)" font-size="5.45" fill="#333">0.0</text>
<line x1="19.8" y1="544.9" x2="21.4" y2="544.9" stroke="#6e6e6e" stroke-width="0.8"/>
<text transform="translate(19,544.9) rotate(-90)" font-size="5.45" fill="#333" text-anchor="middle">2.0</text>
<line x1="19.8" y1="514.4" x2="21.4" y2="514.4" stroke="#6e6e6e" stroke-width="0.8"/>
<text transform="translate(19,514.4) rotate(-90)" font-size="5.45" fill="#333" text-anchor="middle">4.0</text>
<line x1="19.8" y1="484" x2="21.4" y2="484" stroke="#6e6e6e" stroke-width="0.8"/>
<text transform="translate(19,484) rotate(-90)" font-size="5.45" fill="#333" text-anchor="middle">6.0</text>
<line x1="19.8" y1="453.5" x2="21.4" y2="453.5" stroke="#6e6e6e" stroke-width="0.8"/>
<text transform="translate(19,453.5) rotate(-90)" font-size="5.45" fill="#333" text-anchor="middle">8.0</text>
<line x1="19.8" y1="423.8" x2="21.4" y2="423.8" stroke="#6e6e6e" stroke-width="0.8"/>
<text transform="translate(19,423.8) rotate(-90)" font-size="5.45" fill="#333" text-anchor="middle">10.0</text>
<text transform="translate(13.35,500.05) rotate(-90)" font-size="5.15" font-weight="bold" fill="#2a2af0" text-anchor="middle">[Finaleff] total nitrogen [mgN/L]</text>
<line x1="36.5" y1="423.8" x2="36.5" y2="575.2" stroke="#6e6e6e" stroke-width="1"/>
<line x1="34.9" y1="575.2" x2="36.5" y2="575.2" stroke="#6e6e6e" stroke-width="0.8"/>
<text transform="translate(34.1,575.2) rotate(-90)" font-size="5.45" fill="#333">0.0</text>
<line x1="34.9" y1="544.9" x2="36.5" y2="544.9" stroke="#6e6e6e" stroke-width="0.8"/>
<text transform="translate(34.1,544.9) rotate(-90)" font-size="5.45" fill="#333" text-anchor="middle">2.0</text>
<line x1="34.9" y1="514.4" x2="36.5" y2="514.4" stroke="#6e6e6e" stroke-width="0.8"/>
<text transform="translate(34.1,514.4) rotate(-90)" font-size="5.45" fill="#333" text-anchor="middle">4.0</text>
<line x1="34.9" y1="484" x2="36.5" y2="484" stroke="#6e6e6e" stroke-width="0.8"/>
<text transform="translate(34.1,484) rotate(-90)" font-size="5.45" fill="#333" text-anchor="middle">6.0</text>
<line x1="34.9" y1="453.5" x2="36.5" y2="453.5" stroke="#6e6e6e" stroke-width="0.8"/>
<text transform="translate(34.1,453.5) rotate(-90)" font-size="5.45" fill="#333" text-anchor="middle">8.0</text>
<line x1="34.9" y1="423.8" x2="36.5" y2="423.8" stroke="#6e6e6e" stroke-width="0.8"/>
<text transform="translate(34.1,423.8) rotate(-90)" font-size="5.45" fill="#333" text-anchor="middle">10.0</text>
<text transform="translate(28.45,500.05) rotate(-90)" font-size="5.15" font-weight="bold" fill="#f02a2a" text-anchor="middle">[Finaleff] nitrite and nitrate [mgN/L]</text>
<line x1="51.6" y1="423.8" x2="51.6" y2="575.2" stroke="#6e6e6e" stroke-width="1"/>
<line x1="50" y1="575.2" x2="51.6" y2="575.2" stroke="#6e6e6e" stroke-width="0.8"/>
<text transform="translate(49.2,575.2) rotate(-90)" font-size="5.45" fill="#333">0.0</text>
<line x1="50" y1="544.9" x2="51.6" y2="544.9" stroke="#6e6e6e" stroke-width="0.8"/>
<text transform="translate(49.2,544.9) rotate(-90)" font-size="5.45" fill="#333" text-anchor="middle">2.0</text>
<line x1="50" y1="514.4" x2="51.6" y2="514.4" stroke="#6e6e6e" stroke-width="0.8"/>
<text transform="translate(49.2,514.4) rotate(-90)" font-size="5.45" fill="#333" text-anchor="middle">4.0</text>
<line x1="50" y1="484" x2="51.6" y2="484" stroke="#6e6e6e" stroke-width="0.8"/>
<text transform="translate(49.2,484) rotate(-90)" font-size="5.45" fill="#333" text-anchor="middle">6.0</text>
<line x1="50" y1="453.5" x2="51.6" y2="453.5" stroke="#6e6e6e" stroke-width="0.8"/>
<text transform="translate(49.2,453.5) rotate(-90)" font-size="5.45" fill="#333" text-anchor="middle">8.0</text>
<line x1="50" y1="423.8" x2="51.6" y2="423.8" stroke="#6e6e6e" stroke-width="0.8"/>
<text transform="translate(49.2,423.8) rotate(-90)" font-size="5.45" fill="#333" text-anchor="middle">10.0</text>
<text transform="translate(43.55,500.05) rotate(-90)" font-size="5.15" font-weight="bold" fill="#111" text-anchor="middle">[Finaleff] ammonia nitrogen [mgN/L]</text>
<polyline points="51.6,574.6 263.2,574.6" fill="none" stroke="#f02a2a" stroke-width="1.3" stroke-linejoin="round"/>
<polyline points="51.6,572.7 69,572.3 86,571.5 91.3,571.3 97.1,574.6 111.6,574.6 118.2,567.4 180,567.6 263.2,568.6" fill="none" stroke="#111" stroke-width="1.35" stroke-linejoin="round"/>
<polyline points="51.6,450.5 63.9,541.7 66.7,545.2 83.1,545.6 88.9,545.2 93.6,546.3 98.3,548.7 111.6,548.9 118.2,541 180,541.5 263.2,542.8" fill="none" stroke="#2a2af0" stroke-width="1.3" stroke-linejoin="round"/>
<text x="101.8" y="431" font-family="'Liberation Serif', 'Times New Roman', serif" font-size="8.77" font-weight="bold" fill="#111" stroke="#111" stroke-width="0.2">e) final effluent</text>
<line x1="280.9" y1="590.6" x2="541.0" y2="590.6" stroke="#c4c4c4" stroke-width="1.2"/>
<line x1="541.0" y1="409.8" x2="541.0" y2="590.6" stroke="#c4c4c4" stroke-width="1.2"/>
<line x1="280.9" y1="409.8" x2="541.0" y2="409.8" stroke="#727272" stroke-width="1.5"/>
<line x1="280.9" y1="409.8" x2="280.9" y2="590.6" stroke="#727272" stroke-width="1.5"/>
<line x1="310" y1="545.5" x2="527" y2="545.5" stroke="#6e6e6e" stroke-width="1"/>
<line x1="310" y1="515.2" x2="527" y2="515.2" stroke="#6e6e6e" stroke-width="1"/>
<line x1="310" y1="485.1" x2="527" y2="485.1" stroke="#6e6e6e" stroke-width="1"/>
<line x1="310" y1="454.7" x2="527" y2="454.7" stroke="#6e6e6e" stroke-width="1"/>
<line x1="310" y1="425.4" x2="527" y2="425.4" stroke="#6e6e6e" stroke-width="1"/>
<line x1="527" y1="425.4" x2="527" y2="575.8" stroke="#6e6e6e" stroke-width="1"/>
<line x1="310" y1="575.8" x2="527" y2="575.8" stroke="#6e6e6e" stroke-width="1"/>
<line x1="310" y1="575.8" x2="310" y2="577.4" stroke="#6e6e6e" stroke-width="0.8"/>
<text transform="translate(310,582.24) scale(1,1.15)" font-size="5.2" fill="#333">0.0</text>
<line x1="353.4" y1="575.8" x2="353.4" y2="577.4" stroke="#6e6e6e" stroke-width="0.8"/>
<text transform="translate(353.4,582.24) scale(1,1.15)" font-size="5.2" fill="#333" text-anchor="middle">20.0</text>
<line x1="396.8" y1="575.8" x2="396.8" y2="577.4" stroke="#6e6e6e" stroke-width="0.8"/>
<text transform="translate(396.8,582.24) scale(1,1.15)" font-size="5.2" fill="#333" text-anchor="middle">40.0</text>
<line x1="440.2" y1="575.8" x2="440.2" y2="577.4" stroke="#6e6e6e" stroke-width="0.8"/>
<text transform="translate(440.2,582.24) scale(1,1.15)" font-size="5.2" fill="#333" text-anchor="middle">60.0</text>
<line x1="483.6" y1="575.8" x2="483.6" y2="577.4" stroke="#6e6e6e" stroke-width="0.8"/>
<text transform="translate(483.6,582.24) scale(1,1.15)" font-size="5.2" fill="#333" text-anchor="middle">80.0</text>
<line x1="527" y1="575.8" x2="527" y2="577.4" stroke="#6e6e6e" stroke-width="0.8"/>
<text transform="translate(527,582.24) scale(1,1.15)" font-size="5.2" fill="#333" text-anchor="middle">100.0</text>
<text x="417.5" y="589.6" font-size="5.0" font-weight="bold" fill="#111" stroke="#111" stroke-width="0.12" text-anchor="middle">underflow rate [m3/d]</text>
<line x1="295.4" y1="425.4" x2="295.4" y2="575.8" stroke="#6e6e6e" stroke-width="1"/>
<line x1="293.8" y1="575.8" x2="295.4" y2="575.8" stroke="#6e6e6e" stroke-width="0.8"/>
<text transform="translate(293.55,575.8) rotate(-90)" font-size="5.45" fill="#333">0.0</text>
<line x1="293.8" y1="545.5" x2="295.4" y2="545.5" stroke="#6e6e6e" stroke-width="0.8"/>
<text transform="translate(293.55,545.5) rotate(-90)" font-size="5.45" fill="#333" text-anchor="middle">2.0</text>
<line x1="293.8" y1="515.2" x2="295.4" y2="515.2" stroke="#6e6e6e" stroke-width="0.8"/>
<text transform="translate(293.55,515.2) rotate(-90)" font-size="5.45" fill="#333" text-anchor="middle">4.0</text>
<line x1="293.8" y1="485.1" x2="295.4" y2="485.1" stroke="#6e6e6e" stroke-width="0.8"/>
<text transform="translate(293.55,485.1) rotate(-90)" font-size="5.45" fill="#333" text-anchor="middle">6.0</text>
<line x1="293.8" y1="454.7" x2="295.4" y2="454.7" stroke="#6e6e6e" stroke-width="0.8"/>
<text transform="translate(293.55,454.7) rotate(-90)" font-size="5.45" fill="#333" text-anchor="middle">8.0</text>
<line x1="293.8" y1="425.4" x2="295.4" y2="425.4" stroke="#6e6e6e" stroke-width="0.8"/>
<text transform="translate(293.55,425.4) rotate(-90)" font-size="5.45" fill="#333" text-anchor="middle">10.0</text>
<text transform="translate(287.41,501.45) rotate(-90)" font-size="5.3" font-weight="bold" fill="#111" text-anchor="middle">[Finaleff] total phosphorus [mgP/L]</text>
<line x1="309.9" y1="425.4" x2="309.9" y2="575.8" stroke="#6e6e6e" stroke-width="1"/>
<line x1="308.3" y1="575.8" x2="309.9" y2="575.8" stroke="#6e6e6e" stroke-width="0.8"/>
<text transform="translate(308.05,575.8) rotate(-90)" font-size="5.45" fill="#333">0.0</text>
<line x1="308.3" y1="545.5" x2="309.9" y2="545.5" stroke="#6e6e6e" stroke-width="0.8"/>
<text transform="translate(308.05,545.5) rotate(-90)" font-size="5.45" fill="#333" text-anchor="middle">2.0</text>
<line x1="308.3" y1="515.2" x2="309.9" y2="515.2" stroke="#6e6e6e" stroke-width="0.8"/>
<text transform="translate(308.05,515.2) rotate(-90)" font-size="5.45" fill="#333" text-anchor="middle">4.0</text>
<line x1="308.3" y1="485.1" x2="309.9" y2="485.1" stroke="#6e6e6e" stroke-width="0.8"/>
<text transform="translate(308.05,485.1) rotate(-90)" font-size="5.45" fill="#333" text-anchor="middle">6.0</text>
<line x1="308.3" y1="454.7" x2="309.9" y2="454.7" stroke="#6e6e6e" stroke-width="0.8"/>
<text transform="translate(308.05,454.7) rotate(-90)" font-size="5.45" fill="#333" text-anchor="middle">8.0</text>
<line x1="308.3" y1="425.4" x2="309.9" y2="425.4" stroke="#6e6e6e" stroke-width="0.8"/>
<text transform="translate(308.05,425.4) rotate(-90)" font-size="5.45" fill="#333" text-anchor="middle">10.0</text>
<text transform="translate(301.87,501.45) rotate(-90)" font-size="5.2" font-weight="bold" fill="#f02a2a" text-anchor="middle">[Finaleff] soluble total phosphorus [mgP/L]</text>
<polyline points="310,521.4 319.9,523.7 323.4,525 333.1,534.6 342.7,545.1 348.9,553.9 355,562.6 358.5,565.3 365.5,567.6 373.4,571.8 527,572" fill="none" stroke="#f02a2a" stroke-width="1.35" stroke-linejoin="round"/>
<polyline points="310,483.4 322.5,522.7 333.1,534.6 342.7,545.1 348.9,553.9 355,562.6 358.5,565.3 365.5,567.6 373.4,571.8 527,572" fill="none" stroke="#111" stroke-width="1.35" stroke-linejoin="round"/>
<text x="359.7" y="444.2" font-family="'Liberation Serif', 'Times New Roman', serif" font-size="8.77" font-weight="bold" fill="#111" stroke="#111" stroke-width="0.2">f) final effluent</text>
</svg>
</body></html>
